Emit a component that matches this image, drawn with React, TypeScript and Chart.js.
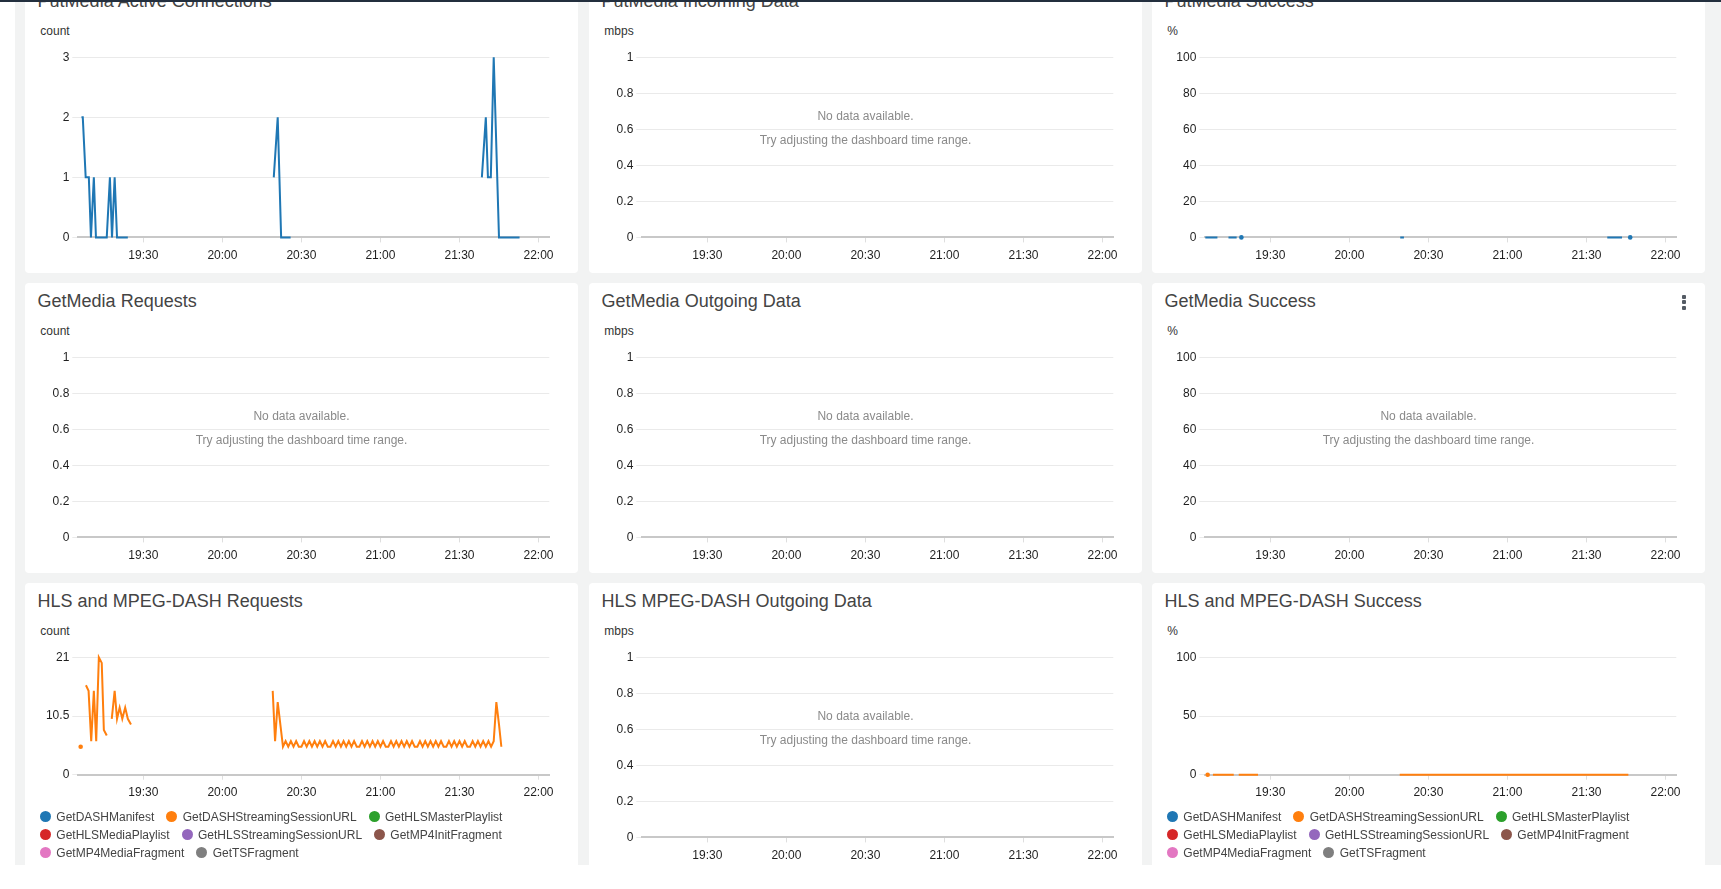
import React, { useEffect, useRef } from 'react';
import { Chart, registerables } from 'chart.js';

Chart.register(...registerables);

const FONT_FAMILY = '"Liberation Sans", Arial, Helvetica, sans-serif';

// x axis: minutes after 19:00
const xMin = 5.3;
const xMax = 184.1;
const xTickMinutes = [30, 60, 90, 120, 150, 180];
const xTickLabels = ['19:30', '20:00', '20:30', '21:00', '21:30', '22:00'];

// PutMedia Active Connections (null = gap)
const putConnTimes = [
  6.5, 7, 8.1, 9.3, 10.1, 11.2, 12, 13, 14, 15, 16.1, 17.3, 18.1, 19.1, 20, 21, 22, 23, 24.1,
  50,
  79.5, 81, 82.3, 83.3, 84.3, 85.3, 85.9,
  120,
  158.5, 160, 160.8, 161.9, 163, 165, 166, 167, 168, 169, 170, 171, 172, 172.8,
];
const putConnValues = [
  2, 2, 1, 1, 0, 1, 0, 0, 0, 0, 0, 1, 0, 1, 0, 0, 0, 0, 0,
  null,
  1, 2, 0, 0, 0, 0, 0,
  null,
  1, 2, 1, 1, 3, 0, 0, 0, 0, 0, 0, 0, 0, 0,
];

// PutMedia Success
const putSuccessTimes = [
  5.3, 6, 7, 8, 9, 9.9,
  12,
  14.1, 15, 16, 17.2,
  18,
  19,
  40,
  79.3, 80.7,
  120,
  157.9, 159, 160, 161, 162, 163.5,
  165,
  166.6,
];
const putSuccessValues = [
  0, 0, 0, 0, 0, 0,
  null,
  0, 0, 0, 0,
  null,
  0,
  null,
  0, 0,
  null,
  0, 0, 0, 0, 0, 0,
  null,
  0,
];

// HLS and MPEG-DASH (GetDASHStreamingSessionURL)
const hlsTimes = [
  6.2,
  7.2,
  8.2, 9.2, 10.2, 11.2, 12.1, 13.1, 14.2, 15, 16.1,
  17,
  18, 19.1, 20, 21, 22, 23.1, 24.1, 25.3,
  50,
  79.1, 80, 81,
  83, 84, 85, 86, 87, 88, 89, 90, 91, 92,
  93, 94, 95, 96, 97, 98, 99, 100, 101, 102,
  103, 104, 105, 106, 107, 108, 109, 110, 111, 112,
  113, 114, 115, 116, 117, 118, 119, 120, 121, 122,
  123, 124, 125, 126, 127, 128, 129, 130, 131, 132,
  133, 134, 135, 136, 137, 138, 139, 140, 141, 142,
  143, 144, 145, 146, 147, 148, 149, 150, 151, 152,
  153, 154, 155, 156, 157, 158, 159, 160, 161, 162,
  163,
  164, 165, 165.9,
];
const hlsRequestValues = [
  5,
  null,
  16, 15, 6, 15, 6, 21, 20, 8, 7,
  null,
  10, 15, 10, 12, 10, 12, 10, 9,
  null,
  15, 6, 13,
  5, 6, 5, 6, 5, 6, 5, 5, 6, 5,
  6, 5, 6, 5, 6, 5, 6, 5, 5, 6,
  5, 6, 5, 6, 5, 6, 5, 6, 5, 5,
  6, 5, 6, 5, 6, 5, 6, 5, 6, 5,
  5, 6, 5, 6, 5, 6, 5, 6, 5, 6,
  5, 5, 6, 5, 6, 5, 6, 5, 6, 5,
  6, 5, 5, 6, 5, 6, 5, 6, 5, 6,
  5, 5, 6, 5, 6, 5, 6, 5, 6, 5,
  6,
  13, 9, 5,
];
const hlsSuccessValues = [
  0,
  null,
  0, 0, 0, 0, 0, 0, 0, 0, 0,
  null,
  0, 0, 0, 0, 0, 0, 0, 0,
  null,
  0, 0, 0,
  0, 0, 0, 0, 0, 0, 0, 0, 0, 0,
  0, 0, 0, 0, 0, 0, 0, 0, 0, 0,
  0, 0, 0, 0, 0, 0, 0, 0, 0, 0,
  0, 0, 0, 0, 0, 0, 0, 0, 0, 0,
  0, 0, 0, 0, 0, 0, 0, 0, 0, 0,
  0, 0, 0, 0, 0, 0, 0, 0, 0, 0,
  0, 0, 0, 0, 0, 0, 0, 0, 0, 0,
  0, 0, 0, 0, 0, 0, 0, 0, 0, 0,
  0,
  0, 0, 0,
];

const hlsSeriesNames = [
  'GetDASHManifest',
  'GetDASHStreamingSessionURL',
  'GetHLSMasterPlaylist',
  'GetHLSMediaPlaylist',
  'GetHLSStreamingSessionURL',
  'GetMP4InitFragment',
  'GetMP4MediaFragment',
  'GetTSFragment',
];
const hlsSeriesColors = [
  '#1f77b4', '#ff7f0e', '#2ca02c', '#d62728', '#9467bd', '#8c564b', '#e377c2', '#7f7f7f',
];
const HLS_ACTIVE = 1;

const isolatedRadius = (ctx: any) => {
  const d = ctx.dataset.data as any[];
  const i = ctx.dataIndex;
  const cur = d[i];
  if (!cur || cur.y == null) return 0;
  const prev = d[i - 1];
  const next = d[i + 1];
  const hasPrev = prev && prev.y != null;
  const hasNext = next && next.y != null;
  return !hasPrev && !hasNext ? 2.3 : 0;
};

function toPoints(times: number[], values: (number | null)[]) {
  return times.map((t, i) => ({ x: t, y: values[i] }));
}

function lineDataset(label: string, color: string, times: number[], values: (number | null)[]) {
  return {
    label,
    data: toPoints(times, values),
    borderColor: color,
    backgroundColor: color,
    borderWidth: 2,
    pointRadius: isolatedRadius,
    pointHoverRadius: 0,
    pointBorderWidth: 0,
    pointBackgroundColor: color,
    tension: 0,
    spanGaps: false,
    fill: false,
    clip: false as any,
  };
}

function hlsDatasets(values: (number | null)[]) {
  return hlsSeriesNames.map((name, i) =>
    i === HLS_ACTIVE
      ? lineDataset(name, hlsSeriesColors[i], hlsTimes, values)
      : lineDataset(name, hlsSeriesColors[i], [], [])
  );
}

type PanelCfg = {
  title: string;
  unit: string;
  yMax: number;
  yStep: number;
  makeDatasets?: () => any[];
  noData?: boolean;
  legend?: boolean;
  kebab?: boolean;
};

const panels: PanelCfg[] = [
  {
    title: 'PutMedia Active Connections', unit: 'count', yMax: 3, yStep: 1,
    makeDatasets: () => [lineDataset('PutMedia Active Connections', '#1f77b4', putConnTimes, putConnValues)],
  },
  { title: 'PutMedia Incoming Data', unit: 'mbps', yMax: 1, yStep: 0.2, noData: true },
  {
    title: 'PutMedia Success', unit: '%', yMax: 100, yStep: 20,
    makeDatasets: () => [lineDataset('PutMedia Success', '#1f77b4', putSuccessTimes, putSuccessValues)],
  },
  { title: 'GetMedia Requests', unit: 'count', yMax: 1, yStep: 0.2, noData: true },
  { title: 'GetMedia Outgoing Data', unit: 'mbps', yMax: 1, yStep: 0.2, noData: true },
  { title: 'GetMedia Success', unit: '%', yMax: 100, yStep: 20, noData: true, kebab: true },
  {
    title: 'HLS and MPEG-DASH Requests', unit: 'count', yMax: 21, yStep: 10.5, legend: true,
    makeDatasets: () => hlsDatasets(hlsRequestValues),
  },
  { title: 'HLS MPEG-DASH Outgoing Data', unit: 'mbps', yMax: 1, yStep: 0.2, noData: true },
  {
    title: 'HLS and MPEG-DASH Success', unit: '%', yMax: 100, yStep: 50, legend: true,
    makeDatasets: () => hlsDatasets(hlsSuccessValues),
  },
];

const colX = [25, 589, 1152];
const rowY = [-16.7, 283.3, 583.3];
const PANEL_W = 553;
const PANEL_H = 289.4;
const CHART_TOP = 64;
const CHART_H = 225;

function formatY(v: any) {
  const n = Math.round(Number(v) * 1000) / 1000;
  return String(n);
}

function LineChart({ cfg }: { cfg: PanelCfg }) {
  const ref = useRef<HTMLCanvasElement>(null);
  useEffect(() => {
    if (!ref.current) return;
    const bottomPad = cfg.legend ? 67.3 : 4.6;
    const tickFont = { family: FONT_FAMILY, size: 12 };
    const chart = new Chart(ref.current, {
      type: 'line',
      data: { datasets: cfg.makeDatasets ? cfg.makeDatasets() : [] },
      options: {
        animation: false,
        responsive: true,
        maintainAspectRatio: false,
        events: [],
        layout: { padding: { left: 0, right: 28.7, top: 10.3, bottom: bottomPad } },
        plugins: { legend: { display: false }, tooltip: { enabled: false }, title: { display: false } },
        scales: {
          x: {
            type: 'linear',
            min: xMin,
            max: xMax,
            afterBuildTicks: (axis: any) => {
              axis.ticks = xTickMinutes.map((v) => ({ value: v }));
            },
            afterFit: (axis: any) => {
              axis.height = 30;
            },
            ticks: {
              autoSkip: false,
              maxRotation: 0,
              padding: 6,
              color: '#1f1f1f',
              font: tickFont,
              callback: (v: any) => {
                const idx = xTickMinutes.indexOf(Number(v));
                return idx >= 0 ? xTickLabels[idx] : '';
              },
            },
            grid: { drawOnChartArea: false, drawTicks: true, tickLength: 5, color: '#dedede' },
            border: { display: true, color: '#c8c8c8', width: 2 },
          },
          y: {
            type: 'linear',
            min: 0,
            max: cfg.yMax,
            afterFit: (axis: any) => {
              axis.width = 53.3;
            },
            ticks: { stepSize: cfg.yStep, padding: 3, color: '#1f1f1f', font: tickFont, callback: formatY },
            grid: {
              drawTicks: true,
              tickLength: 6,
              lineWidth: 1,
              color: (ctx: any) => (ctx.tick && ctx.tick.value === 0 ? 'rgba(0,0,0,0)' : '#eaeaea'),
              tickColor: '#eaeaea',
            },
            border: { display: false },
          },
        },
      } as any,
    });
    return () => chart.destroy();
  }, [cfg]);
  return <canvas ref={ref} />;
}

function Panel({ cfg, x, y }: { cfg: PanelCfg; x: number; y: number }) {
  return (
    <div
      style={{
        position: 'absolute',
        left: x,
        top: y,
        width: PANEL_W,
        height: PANEL_H,
        background: '#ffffff',
        borderRadius: 4,
        overflow: 'hidden',
      }}
    >
      <div
        style={{
          position: 'absolute',
          left: 12.6,
          top: 7.5,
          fontSize: 18,
          lineHeight: '20px',
          color: '#444444',
          whiteSpace: 'nowrap',
        }}
      >
        {cfg.title}
      </div>
      <div
        style={{
          position: 'absolute',
          left: 15.3,
          top: 40.5,
          fontSize: 12,
          lineHeight: '14px',
          color: '#333333',
        }}
      >
        {cfg.unit}
      </div>
      <div style={{ position: 'absolute', left: 0, top: CHART_TOP, width: PANEL_W, height: CHART_H }}>
        <LineChart cfg={cfg} />
      </div>
      {cfg.noData && (
        <>
          <div
            style={{
              position: 'absolute', left: 0, top: 125.4, width: PANEL_W, textAlign: 'center',
              fontSize: 12, lineHeight: '14px', color: '#8a8a8a',
            }}
          >
            No data available.
          </div>
          <div
            style={{
              position: 'absolute', left: 0, top: 149.4, width: PANEL_W, textAlign: 'center',
              fontSize: 12, lineHeight: '14px', color: '#8a8a8a',
            }}
          >
            Try adjusting the dashboard time range.
          </div>
        </>
      )}
      {cfg.legend && (
        <div
          style={{
            position: 'absolute', left: 15, top: 224.4, width: 523,
            display: 'flex', flexWrap: 'wrap', columnGap: 12, rowGap: 0,
          }}
        >
          {hlsSeriesNames.map((name, i) => (
            <div key={name} style={{ display: 'flex', alignItems: 'center', height: 18 }}>
              <span
                style={{
                  display: 'inline-block', width: 11, height: 11, borderRadius: '50%',
                  background: hlsSeriesColors[i], marginRight: 5.3,
                }}
              />
              <span style={{ fontSize: 12, lineHeight: '18px', color: '#444444', whiteSpace: 'nowrap' }}>
                {name}
              </span>
            </div>
          ))}
        </div>
      )}
      {cfg.kebab && (
        <div style={{ position: 'absolute', left: 530, top: 11.5 }}>
          {[0, 1, 2].map((k) => (
            <div
              key={k}
              style={{
                position: 'absolute', left: 0, top: k * 5.5, width: 4, height: 4,
                borderRadius: 1, background: '#545b64',
              }}
            />
          ))}
        </div>
      )}
    </div>
  );
}

export default function App() {
  return (
    <div
      style={{
        position: 'absolute',
        left: 0,
        top: 0,
        width: 1721,
        height: 889,
        background: '#ffffff',
        overflow: 'hidden',
        fontFamily: FONT_FAMILY,
      }}
    >
      <div style={{ position: 'absolute', left: 0, top: 0, width: 1721, height: 865, overflow: 'hidden' }}>
        <div style={{ position: 'absolute', left: 15, top: 0, right: 0, bottom: 0, background: '#f2f3f3' }} />
        {panels.map((cfg, i) => (
          <Panel key={cfg.title} cfg={cfg} x={colX[i % 3]} y={rowY[Math.floor(i / 3)]} />
        ))}
      </div>
      <div
        style={{ position: 'absolute', left: 0, top: 0, width: 1721, height: 2, background: '#232f3e', zIndex: 10 }}
      />
    </div>
  );
}
